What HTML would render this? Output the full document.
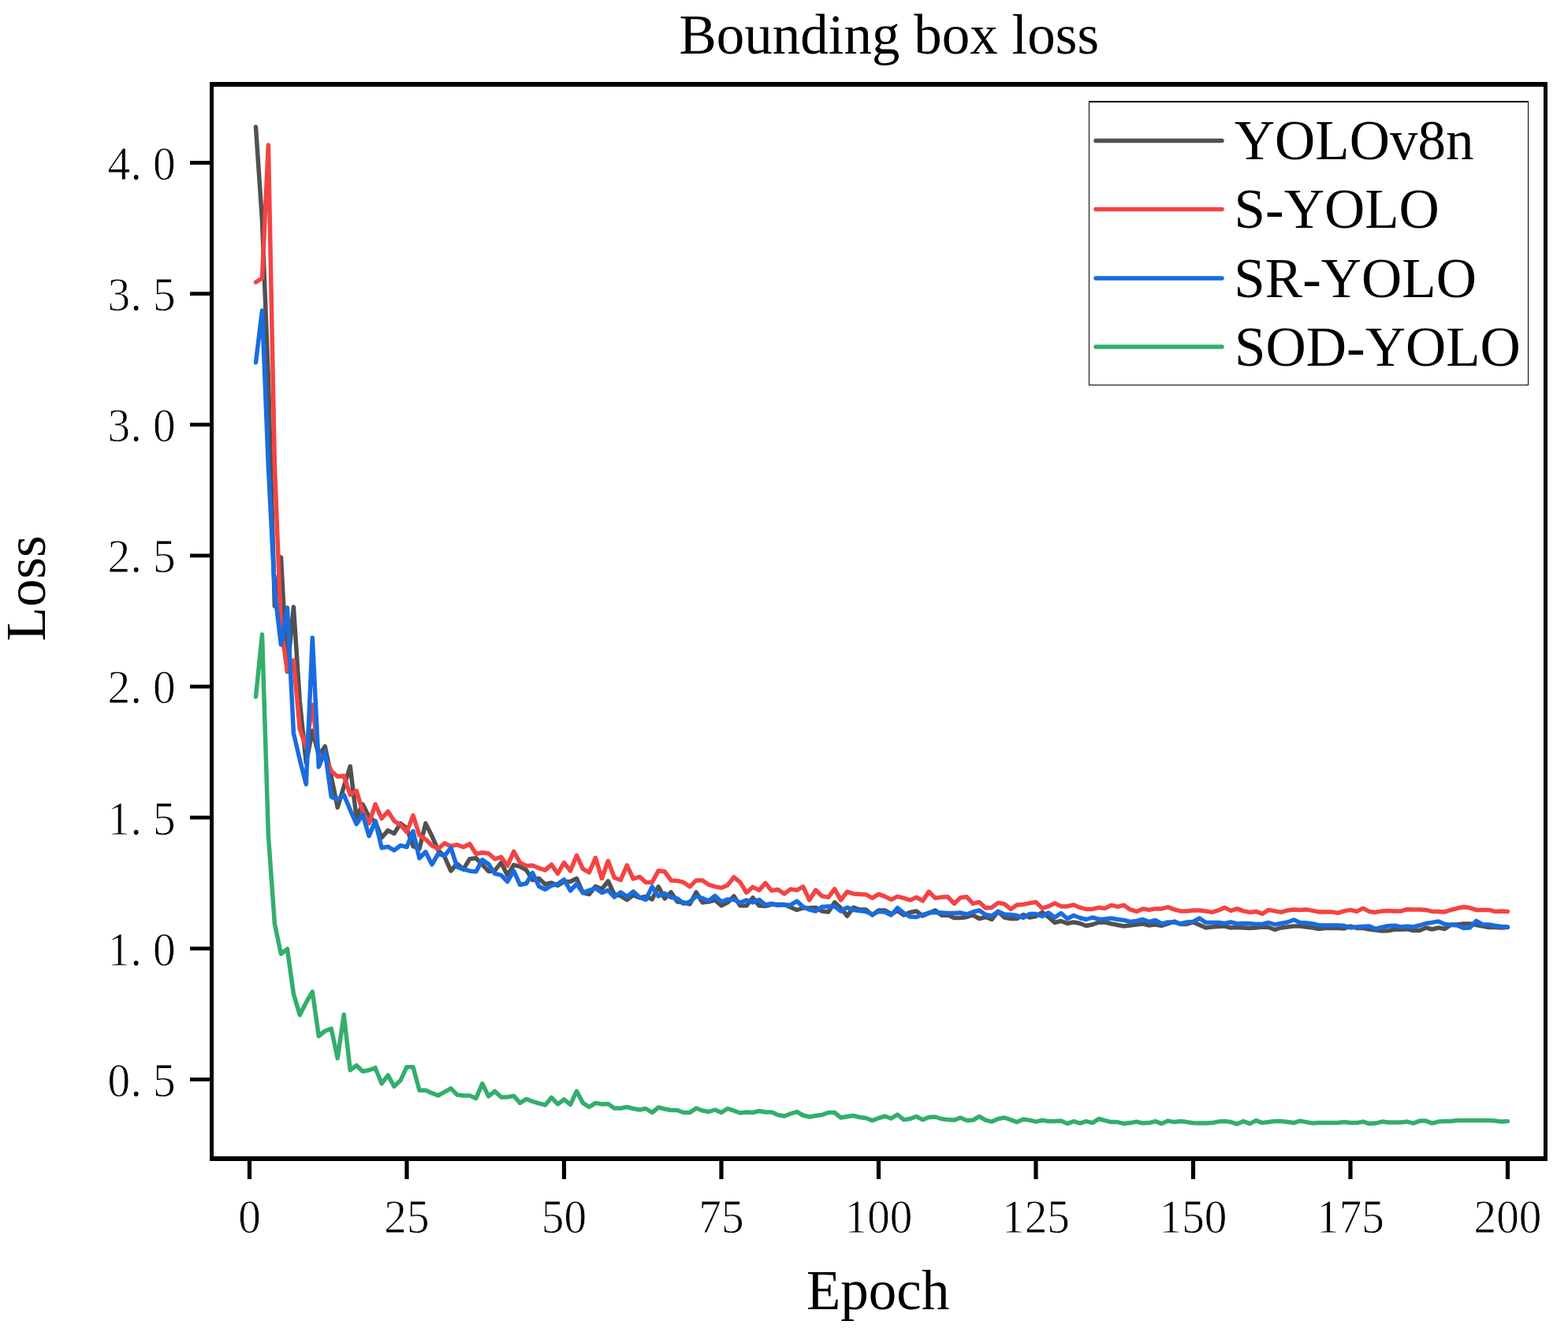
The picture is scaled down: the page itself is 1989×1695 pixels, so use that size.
<!DOCTYPE html>
<html><head><meta charset="utf-8"><title>Bounding box loss</title>
<style>
html,body{margin:0;padding:0;background:#fff;}
body{width:1989px;height:1695px;overflow:hidden;}
svg{display:block;}
text{font-family:"Liberation Serif","Times New Roman",serif;fill:#000;}
.tl{font-size:71px;}
.tk{font-size:58.5px;stroke:#fff;stroke-width:0.8px;}
</style></head><body>
<svg width="1989" height="1695" viewBox="0 0 1989 1695">
<rect x="0" y="0" width="1989" height="1695" fill="#fff"/>
<text class="tl" x="861.5" y="67.6">Bounding box loss</text>
<text class="tl" transform="translate(57.1,813.4) rotate(-90)" x="0" y="0">Loss</text>
<text class="tl" x="1023" y="1660.7">Epoch</text>
<g id="yticks" class="tk">
<text transform="translate(136.40,227.80) scale(0.98,1.04)" x="0.00 29.59 58.67" y="0">4.0</text>
<text transform="translate(136.40,393.94) scale(0.98,1.04)" x="0.00 29.59 58.67" y="0">3.5</text>
<text transform="translate(136.40,560.09) scale(0.98,1.04)" x="0.00 29.59 58.67" y="0">3.0</text>
<text transform="translate(136.40,726.24) scale(0.98,1.04)" x="0.00 29.59 58.67" y="0">2.5</text>
<text transform="translate(136.40,892.38) scale(0.98,1.04)" x="0.00 29.59 58.67" y="0">2.0</text>
<text transform="translate(136.40,1058.52) scale(0.98,1.04)" x="0.00 29.59 58.67" y="0">1.5</text>
<text transform="translate(136.40,1224.67) scale(0.98,1.04)" x="0.00 29.59 58.67" y="0">1.0</text>
<text transform="translate(136.40,1390.82) scale(0.98,1.04)" x="0.00 29.59 58.67" y="0">0.5</text>
</g>
<g id="xticks" class="tk" text-anchor="middle">
<text transform="translate(316.50,1563.50) scale(0.98,1.04)" x="0" y="0">0</text>
<text transform="translate(516.00,1563.50) scale(0.98,1.04)" x="0" y="0">25</text>
<text transform="translate(715.50,1563.50) scale(0.98,1.04)" x="0" y="0">50</text>
<text transform="translate(915.00,1563.50) scale(0.98,1.04)" x="0" y="0">75</text>
<text transform="translate(1114.50,1563.50) scale(0.98,1.04)" x="0" y="0">100</text>
<text transform="translate(1314.00,1563.50) scale(0.98,1.04)" x="0" y="0">125</text>
<text transform="translate(1513.50,1563.50) scale(0.98,1.04)" x="0" y="0">150</text>
<text transform="translate(1713.00,1563.50) scale(0.98,1.04)" x="0" y="0">175</text>
<text transform="translate(1912.50,1563.50) scale(0.98,1.04)" x="0" y="0">200</text>
</g>
<g id="curves" fill="none" stroke-width="5.5" stroke-linejoin="round" stroke-linecap="round">
<path stroke="#515151" d="M324.5 161.0 L332.5 280.0 L340.4 480.0 L348.4 769.0 L356.4 707.0 L364.4 852.0 L372.4 770.0 L380.3 890.0 L388.3 968.0 L396.3 927.0 L404.3 958.0 L412.3 947.0 L420.2 985.0 L428.2 1024.5 L436.2 998.0 L444.2 972.2 L452.2 1037.5 L460.1 1020.4 L468.1 1036.5 L476.1 1042.6 L484.1 1062.7 L492.1 1053.6 L500.0 1057.6 L508.0 1044.6 L516.0 1050.6 L524.0 1073.7 L532.0 1076.8 L539.9 1044.6 L547.9 1060.7 L555.9 1078.8 L563.9 1086.8 L571.9 1104.9 L579.8 1095.9 L587.8 1102.9 L595.8 1089.8 L603.8 1088.8 L611.8 1096.9 L619.7 1105.4 L627.7 1104.4 L635.7 1094.4 L643.7 1110.4 L651.7 1097.4 L659.6 1099.4 L667.6 1103.9 L675.6 1116.5 L683.6 1114.5 L691.6 1122.0 L699.5 1120.0 L707.5 1123.5 L715.5 1118.5 L723.5 1118.5 L731.5 1114.5 L739.4 1132.6 L747.4 1134.6 L755.4 1124.5 L763.4 1128.0 L771.4 1118.0 L779.3 1134.6 L787.3 1136.6 L795.3 1141.6 L803.3 1135.6 L811.3 1139.0 L819.2 1137.5 L827.2 1141.0 L835.2 1124.9 L843.2 1140.0 L851.2 1132.0 L859.1 1144.0 L867.1 1145.0 L875.1 1147.0 L883.1 1132.0 L891.1 1145.0 L899.0 1144.0 L907.0 1142.0 L915.0 1149.0 L923.0 1145.0 L931.0 1137.0 L938.9 1149.0 L946.9 1149.0 L954.9 1139.0 L962.9 1149.0 L970.9 1149.5 L978.8 1147.5 L986.8 1147.5 L994.8 1147.5 L1002.8 1151.0 L1010.8 1154.5 L1018.7 1152.0 L1026.7 1152.0 L1034.7 1151.4 L1042.7 1156.0 L1050.7 1157.0 L1058.6 1144.9 L1066.6 1152.0 L1074.6 1162.0 L1082.6 1151.4 L1090.6 1154.0 L1098.5 1154.0 L1106.5 1161.0 L1114.5 1155.0 L1122.5 1155.0 L1130.5 1159.5 L1138.4 1155.5 L1146.4 1161.0 L1154.4 1157.5 L1162.4 1156.0 L1170.4 1162.0 L1178.3 1158.5 L1186.3 1155.0 L1194.3 1161.2 L1202.3 1161.0 L1210.3 1164.5 L1218.2 1164.5 L1226.2 1163.5 L1234.2 1161.0 L1242.2 1165.5 L1250.2 1163.5 L1258.1 1166.5 L1266.1 1156.4 L1274.1 1164.0 L1282.1 1165.5 L1290.1 1165.5 L1298.0 1160.5 L1306.0 1164.0 L1314.0 1162.5 L1322.0 1157.5 L1330.0 1163.5 L1337.9 1170.5 L1345.9 1168.5 L1353.9 1171.5 L1361.9 1170.0 L1369.9 1171.5 L1377.8 1174.5 L1385.8 1173.0 L1393.8 1170.2 L1401.8 1170.0 L1409.8 1172.0 L1417.7 1173.5 L1425.7 1175.0 L1433.7 1174.0 L1441.7 1173.0 L1449.7 1172.0 L1457.6 1174.0 L1465.6 1173.0 L1473.6 1174.5 L1481.6 1172.0 L1489.6 1169.0 L1497.5 1172.5 L1505.5 1172.5 L1513.5 1170.0 L1521.5 1173.5 L1529.5 1177.0 L1537.4 1176.0 L1545.4 1175.5 L1553.4 1175.0 L1561.4 1177.0 L1569.4 1176.5 L1577.3 1177.0 L1585.3 1177.5 L1593.3 1177.0 L1601.3 1176.0 L1609.3 1176.5 L1617.2 1179.5 L1625.2 1177.0 L1633.2 1176.0 L1641.2 1175.0 L1649.2 1175.0 L1657.1 1176.0 L1665.1 1177.0 L1673.1 1178.5 L1681.1 1177.5 L1689.1 1177.5 L1697.0 1177.5 L1705.0 1178.0 L1713.0 1175.0 L1721.0 1177.5 L1729.0 1177.5 L1736.9 1179.0 L1744.9 1180.0 L1752.9 1181.0 L1760.9 1180.8 L1768.9 1179.2 L1776.8 1179.2 L1784.8 1178.8 L1792.8 1180.5 L1800.8 1180.5 L1808.8 1177.0 L1816.7 1179.0 L1824.7 1177.0 L1832.7 1178.5 L1840.7 1173.0 L1848.7 1173.0 L1856.6 1172.0 L1864.6 1172.0 L1872.6 1173.5 L1880.6 1175.0 L1888.6 1176.5 L1896.5 1176.5 L1904.5 1177.0 L1912.5 1176.5"/>
<path stroke="#F44343" d="M324.5 358.0 L332.5 353.0 L340.4 184.0 L348.4 590.0 L356.4 795.0 L364.4 851.0 L372.4 838.0 L380.3 925.0 L388.3 948.0 L396.3 894.0 L404.3 958.0 L412.3 962.0 L420.2 978.0 L428.2 985.2 L436.2 984.2 L444.2 1008.4 L452.2 1003.3 L460.1 1029.5 L468.1 1044.6 L476.1 1020.4 L484.1 1038.5 L492.1 1029.5 L500.0 1041.6 L508.0 1046.6 L516.0 1055.6 L524.0 1034.5 L532.0 1059.7 L539.9 1064.7 L547.9 1072.7 L555.9 1076.8 L563.9 1069.7 L571.9 1073.7 L579.8 1071.7 L587.8 1074.7 L595.8 1070.7 L603.8 1083.3 L611.8 1081.8 L619.7 1082.8 L627.7 1089.8 L635.7 1087.3 L643.7 1098.4 L651.7 1080.3 L659.6 1094.4 L667.6 1098.4 L675.6 1097.9 L683.6 1101.4 L691.6 1103.9 L699.5 1096.9 L707.5 1108.4 L715.5 1094.4 L723.5 1104.9 L731.5 1085.3 L739.4 1102.4 L747.4 1106.9 L755.4 1088.3 L763.4 1114.5 L771.4 1092.3 L779.3 1113.5 L787.3 1116.5 L795.3 1097.9 L803.3 1115.0 L811.3 1112.4 L819.2 1119.4 L827.2 1119.4 L835.2 1104.8 L843.2 1105.8 L851.2 1116.9 L859.1 1117.4 L867.1 1119.4 L875.1 1124.9 L883.1 1116.9 L891.1 1116.9 L899.0 1122.4 L907.0 1124.9 L915.0 1126.4 L923.0 1122.9 L931.0 1112.8 L938.9 1119.4 L946.9 1132.5 L954.9 1125.4 L962.9 1129.4 L970.9 1120.4 L978.8 1129.9 L986.8 1128.4 L994.8 1134.0 L1002.8 1128.1 L1010.8 1129.3 L1018.7 1124.8 L1026.7 1141.9 L1034.7 1129.3 L1042.7 1136.9 L1050.7 1138.4 L1058.6 1127.8 L1066.6 1141.9 L1074.6 1131.3 L1082.6 1133.9 L1090.6 1134.4 L1098.5 1134.9 L1106.5 1139.4 L1114.5 1134.4 L1122.5 1137.4 L1130.5 1141.4 L1138.4 1137.4 L1146.4 1139.4 L1154.4 1141.9 L1162.4 1138.4 L1170.4 1142.9 L1178.3 1131.3 L1186.3 1139.4 L1194.3 1138.3 L1202.3 1137.8 L1210.3 1146.4 L1218.2 1138.9 L1226.2 1137.8 L1234.2 1146.4 L1242.2 1144.4 L1250.2 1151.9 L1258.1 1151.4 L1266.1 1145.4 L1274.1 1146.9 L1282.1 1153.4 L1290.1 1147.9 L1298.0 1147.4 L1306.0 1145.9 L1314.0 1144.4 L1322.0 1152.4 L1330.0 1149.9 L1337.9 1145.9 L1345.9 1149.9 L1353.9 1149.9 L1361.9 1147.9 L1369.9 1151.4 L1377.8 1153.4 L1385.8 1153.4 L1393.8 1151.4 L1401.8 1152.4 L1409.8 1148.4 L1417.7 1150.4 L1425.7 1148.4 L1433.7 1153.9 L1441.7 1156.4 L1449.7 1152.9 L1457.6 1154.4 L1465.6 1152.9 L1473.6 1152.9 L1481.6 1150.9 L1489.6 1153.9 L1497.5 1155.9 L1505.5 1155.9 L1513.5 1154.9 L1521.5 1154.9 L1529.5 1155.9 L1537.4 1157.4 L1545.4 1154.9 L1553.4 1151.4 L1561.4 1155.4 L1569.4 1152.9 L1577.3 1155.9 L1585.3 1157.4 L1593.3 1156.4 L1601.3 1159.4 L1609.3 1154.4 L1617.2 1155.9 L1625.2 1157.4 L1633.2 1154.9 L1641.2 1153.9 L1649.2 1154.4 L1657.1 1153.9 L1665.1 1155.4 L1673.1 1156.9 L1681.1 1156.9 L1689.1 1156.9 L1697.0 1158.4 L1705.0 1155.9 L1713.0 1154.4 L1721.0 1156.4 L1729.0 1152.4 L1736.9 1156.4 L1744.9 1157.4 L1752.9 1155.9 L1760.9 1155.4 L1768.9 1155.9 L1776.8 1156.1 L1784.8 1153.7 L1792.8 1153.9 L1800.8 1153.9 L1808.8 1154.4 L1816.7 1156.4 L1824.7 1156.4 L1832.7 1156.9 L1840.7 1154.4 L1848.7 1152.3 L1856.6 1150.8 L1864.6 1151.8 L1872.6 1154.4 L1880.6 1154.4 L1888.6 1154.4 L1896.5 1156.4 L1904.5 1155.9 L1912.5 1156.4"/>
<path stroke="#196CE0" d="M324.5 460.0 L332.5 394.0 L340.4 592.0 L348.4 750.0 L356.4 818.0 L364.4 771.0 L372.4 930.0 L380.3 964.0 L388.3 995.0 L396.3 809.0 L404.3 973.0 L412.3 953.0 L420.2 1011.0 L428.2 1014.4 L436.2 1008.4 L444.2 1027.5 L452.2 1045.6 L460.1 1033.5 L468.1 1060.7 L476.1 1041.6 L484.1 1075.7 L492.1 1074.2 L500.0 1078.8 L508.0 1072.7 L516.0 1074.7 L524.0 1054.6 L532.0 1088.8 L539.9 1080.8 L547.9 1096.9 L555.9 1082.8 L563.9 1085.8 L571.9 1075.7 L579.8 1099.9 L587.8 1102.9 L595.8 1104.9 L603.8 1105.9 L611.8 1090.8 L619.7 1096.2 L627.7 1108.4 L635.7 1110.4 L643.7 1118.5 L651.7 1104.9 L659.6 1122.5 L667.6 1121.0 L675.6 1107.4 L683.6 1124.5 L691.6 1128.5 L699.5 1123.5 L707.5 1121.5 L715.5 1116.0 L723.5 1130.0 L731.5 1121.5 L739.4 1132.6 L747.4 1129.5 L755.4 1127.0 L763.4 1132.6 L771.4 1129.5 L779.3 1138.1 L787.3 1132.0 L795.3 1137.6 L803.3 1131.1 L811.3 1138.5 L819.2 1141.5 L827.2 1124.9 L835.2 1137.0 L843.2 1133.5 L851.2 1138.5 L859.1 1140.0 L867.1 1146.5 L875.1 1144.0 L883.1 1137.0 L891.1 1139.5 L899.0 1143.0 L907.0 1136.5 L915.0 1144.0 L923.0 1141.0 L931.0 1141.5 L938.9 1145.0 L946.9 1142.0 L954.9 1145.0 L962.9 1141.5 L970.9 1148.0 L978.8 1146.5 L986.8 1148.5 L994.8 1148.0 L1002.8 1148.2 L1010.8 1143.4 L1018.7 1150.4 L1026.7 1154.0 L1034.7 1156.0 L1042.7 1150.4 L1050.7 1149.9 L1058.6 1149.9 L1066.6 1156.0 L1074.6 1151.4 L1082.6 1154.5 L1090.6 1155.5 L1098.5 1156.5 L1106.5 1160.0 L1114.5 1156.5 L1122.5 1157.0 L1130.5 1161.0 L1138.4 1152.0 L1146.4 1158.5 L1154.4 1163.0 L1162.4 1163.5 L1170.4 1160.5 L1178.3 1158.0 L1186.3 1157.5 L1194.3 1158.0 L1202.3 1158.5 L1210.3 1158.5 L1218.2 1158.0 L1226.2 1160.0 L1234.2 1157.0 L1242.2 1155.0 L1250.2 1160.5 L1258.1 1162.0 L1266.1 1156.4 L1274.1 1160.0 L1282.1 1160.5 L1290.1 1161.5 L1298.0 1164.5 L1306.0 1159.5 L1314.0 1159.5 L1322.0 1162.5 L1330.0 1158.0 L1337.9 1164.0 L1345.9 1158.5 L1353.9 1165.5 L1361.9 1161.5 L1369.9 1164.5 L1377.8 1166.5 L1385.8 1164.0 L1393.8 1166.2 L1401.8 1166.0 L1409.8 1165.0 L1417.7 1166.5 L1425.7 1167.5 L1433.7 1169.5 L1441.7 1168.5 L1449.7 1166.5 L1457.6 1169.5 L1465.6 1167.5 L1473.6 1172.0 L1481.6 1170.0 L1489.6 1170.0 L1497.5 1172.0 L1505.5 1170.0 L1513.5 1169.5 L1521.5 1165.0 L1529.5 1170.5 L1537.4 1170.5 L1545.4 1170.5 L1553.4 1171.5 L1561.4 1170.0 L1569.4 1172.0 L1577.3 1171.5 L1585.3 1171.8 L1593.3 1172.5 L1601.3 1172.5 L1609.3 1170.5 L1617.2 1173.0 L1625.2 1171.5 L1633.2 1170.0 L1641.2 1167.0 L1649.2 1170.5 L1657.1 1171.0 L1665.1 1172.0 L1673.1 1174.0 L1681.1 1174.0 L1689.1 1174.0 L1697.0 1174.0 L1705.0 1174.5 L1713.0 1177.0 L1721.0 1176.0 L1729.0 1175.5 L1736.9 1175.0 L1744.9 1178.5 L1752.9 1176.5 L1760.9 1174.8 L1768.9 1174.2 L1776.8 1176.0 L1784.8 1175.2 L1792.8 1176.0 L1800.8 1174.0 L1808.8 1171.5 L1816.7 1170.4 L1824.7 1168.9 L1832.7 1172.5 L1840.7 1173.5 L1848.7 1174.0 L1856.6 1177.5 L1864.6 1177.0 L1872.6 1168.4 L1880.6 1173.0 L1888.6 1173.0 L1896.5 1174.5 L1904.5 1175.5 L1912.5 1176.0"/>
<path stroke="#33AE6C" d="M324.5 884.0 L332.5 805.0 L340.4 1060.0 L348.4 1172.0 L356.4 1210.3 L364.4 1204.0 L372.4 1261.0 L380.3 1287.8 L388.3 1272.0 L396.3 1258.2 L404.3 1314.5 L412.3 1308.0 L420.2 1305.0 L428.2 1342.6 L436.2 1287.3 L444.2 1357.7 L452.2 1351.7 L460.1 1359.2 L468.1 1357.7 L476.1 1354.7 L484.1 1374.8 L492.1 1364.2 L500.0 1378.3 L508.0 1370.8 L516.0 1353.7 L524.0 1353.7 L532.0 1383.3 L539.9 1383.3 L547.9 1386.9 L555.9 1389.9 L563.9 1385.4 L571.9 1380.8 L579.8 1388.9 L587.8 1389.9 L595.8 1389.9 L603.8 1393.4 L611.8 1374.8 L619.7 1390.9 L627.7 1384.4 L635.7 1391.9 L643.7 1391.9 L651.7 1390.4 L659.6 1399.4 L667.6 1394.4 L675.6 1397.4 L683.6 1399.9 L691.6 1401.9 L699.5 1392.4 L707.5 1400.9 L715.5 1394.9 L723.5 1401.4 L731.5 1384.4 L739.4 1399.4 L747.4 1404.5 L755.4 1399.4 L763.4 1400.9 L771.4 1400.4 L779.3 1406.0 L787.3 1406.0 L795.3 1404.5 L803.3 1406.5 L811.3 1408.0 L819.2 1406.5 L827.2 1411.5 L835.2 1405.0 L843.2 1407.0 L851.2 1408.5 L859.1 1408.5 L867.1 1411.5 L875.1 1411.5 L883.1 1406.0 L891.1 1409.0 L899.0 1410.5 L907.0 1408.0 L915.0 1411.5 L923.0 1406.5 L931.0 1409.2 L938.9 1412.0 L946.9 1411.0 L954.9 1411.5 L962.9 1409.5 L970.9 1411.0 L978.8 1411.0 L986.8 1414.5 L994.8 1416.0 L1002.8 1413.0 L1010.8 1410.5 L1018.7 1415.0 L1026.7 1417.0 L1034.7 1415.5 L1042.7 1414.5 L1050.7 1411.5 L1058.6 1411.5 L1066.6 1418.0 L1074.6 1416.5 L1082.6 1415.5 L1090.6 1417.5 L1098.5 1418.5 L1106.5 1421.6 L1114.5 1418.5 L1122.5 1416.2 L1130.5 1419.0 L1138.4 1414.0 L1146.4 1420.6 L1154.4 1419.5 L1162.4 1416.5 L1170.4 1420.6 L1178.3 1417.5 L1186.3 1417.0 L1194.3 1419.5 L1202.3 1420.6 L1210.3 1421.1 L1218.2 1418.0 L1226.2 1421.6 L1234.2 1421.1 L1242.2 1416.5 L1250.2 1421.1 L1258.1 1423.1 L1266.1 1419.5 L1274.1 1418.0 L1282.1 1420.6 L1290.1 1423.6 L1298.0 1420.0 L1306.0 1421.1 L1314.0 1423.1 L1322.0 1421.3 L1330.0 1422.6 L1337.9 1422.6 L1345.9 1422.1 L1353.9 1425.6 L1361.9 1422.6 L1369.9 1425.1 L1377.8 1422.6 L1385.8 1424.6 L1393.8 1419.5 L1401.8 1421.6 L1409.8 1423.6 L1417.7 1423.6 L1425.7 1425.6 L1433.7 1424.6 L1441.7 1423.1 L1449.7 1425.1 L1457.6 1424.6 L1465.6 1422.6 L1473.6 1425.6 L1481.6 1422.1 L1489.6 1423.6 L1497.5 1422.6 L1505.5 1423.6 L1513.5 1424.8 L1521.5 1425.1 L1529.5 1425.1 L1537.4 1424.6 L1545.4 1423.1 L1553.4 1422.6 L1561.4 1423.6 L1569.4 1426.1 L1577.3 1422.6 L1585.3 1425.6 L1593.3 1421.6 L1601.3 1424.6 L1609.3 1423.6 L1617.2 1422.6 L1625.2 1422.6 L1633.2 1423.6 L1641.2 1424.6 L1649.2 1422.1 L1657.1 1423.6 L1665.1 1425.1 L1673.1 1424.6 L1681.1 1424.6 L1689.1 1424.6 L1697.0 1424.6 L1705.0 1423.6 L1713.0 1424.6 L1721.0 1424.6 L1729.0 1423.1 L1736.9 1425.6 L1744.9 1425.1 L1752.9 1423.1 L1760.9 1424.1 L1768.9 1424.1 L1776.8 1424.1 L1784.8 1423.1 L1792.8 1425.1 L1800.8 1422.1 L1808.8 1422.1 L1816.7 1425.1 L1824.7 1423.1 L1832.7 1422.6 L1840.7 1422.6 L1848.7 1421.6 L1856.6 1421.6 L1864.6 1421.6 L1872.6 1421.6 L1880.6 1421.6 L1888.6 1421.6 L1896.5 1422.1 L1904.5 1423.1 L1912.5 1422.6"/>
</g>
<g id="frame" fill="#000">
<rect x="266" y="104" width="5" height="1369"/>
<rect x="1958" y="104" width="5" height="1369"/>
<rect x="266" y="104" width="1697" height="6"/>
<rect x="266" y="1467" width="1697" height="6"/>
<rect x="241" y="204.10" width="25" height="4.8"/>
<rect x="241" y="370.25" width="25" height="4.8"/>
<rect x="241" y="536.39" width="25" height="4.8"/>
<rect x="241" y="702.54" width="25" height="4.8"/>
<rect x="241" y="868.68" width="25" height="4.8"/>
<rect x="241" y="1034.82" width="25" height="4.8"/>
<rect x="241" y="1200.97" width="25" height="4.8"/>
<rect x="241" y="1367.12" width="25" height="4.8"/>
<rect x="313.90" y="1473" width="5.2" height="23"/>
<rect x="513.40" y="1473" width="5.2" height="23"/>
<rect x="712.90" y="1473" width="5.2" height="23"/>
<rect x="912.40" y="1473" width="5.2" height="23"/>
<rect x="1111.90" y="1473" width="5.2" height="23"/>
<rect x="1311.40" y="1473" width="5.2" height="23"/>
<rect x="1510.90" y="1473" width="5.2" height="23"/>
<rect x="1710.40" y="1473" width="5.2" height="23"/>
<rect x="1909.90" y="1473" width="5.2" height="23"/>
</g>
<g id="legend">
<rect x="1381" y="128" width="558" height="361" fill="#fff"/>
<g fill="#000"><rect x="1381" y="128" width="558" height="2"/><rect x="1381" y="488" width="558" height="1"/><rect x="1381" y="128" width="1" height="361"/><rect x="1938" y="128" width="1" height="361"/></g>
<line x1="1390" y1="178.4" x2="1550" y2="178.4" stroke="#515151" stroke-width="5.5" stroke-linecap="round"/>
<line x1="1390" y1="265.5" x2="1550" y2="265.5" stroke="#F44343" stroke-width="5.5" stroke-linecap="round"/>
<line x1="1390" y1="353" x2="1550" y2="353" stroke="#196CE0" stroke-width="5.5" stroke-linecap="round"/>
<line x1="1390" y1="440" x2="1550" y2="440" stroke="#33AE6C" stroke-width="5.5" stroke-linecap="round"/>
<text class="tl" x="1565.8" y="202.2">YOLOv8n</text>
<text class="tl" x="1565.5" y="289.4">S-YOLO</text>
<text class="tl" x="1565.3" y="376.6">SR-YOLO</text>
<text class="tl" x="1566" y="463.8">SOD-YOLO</text>
</g>
</svg>
</body></html>
